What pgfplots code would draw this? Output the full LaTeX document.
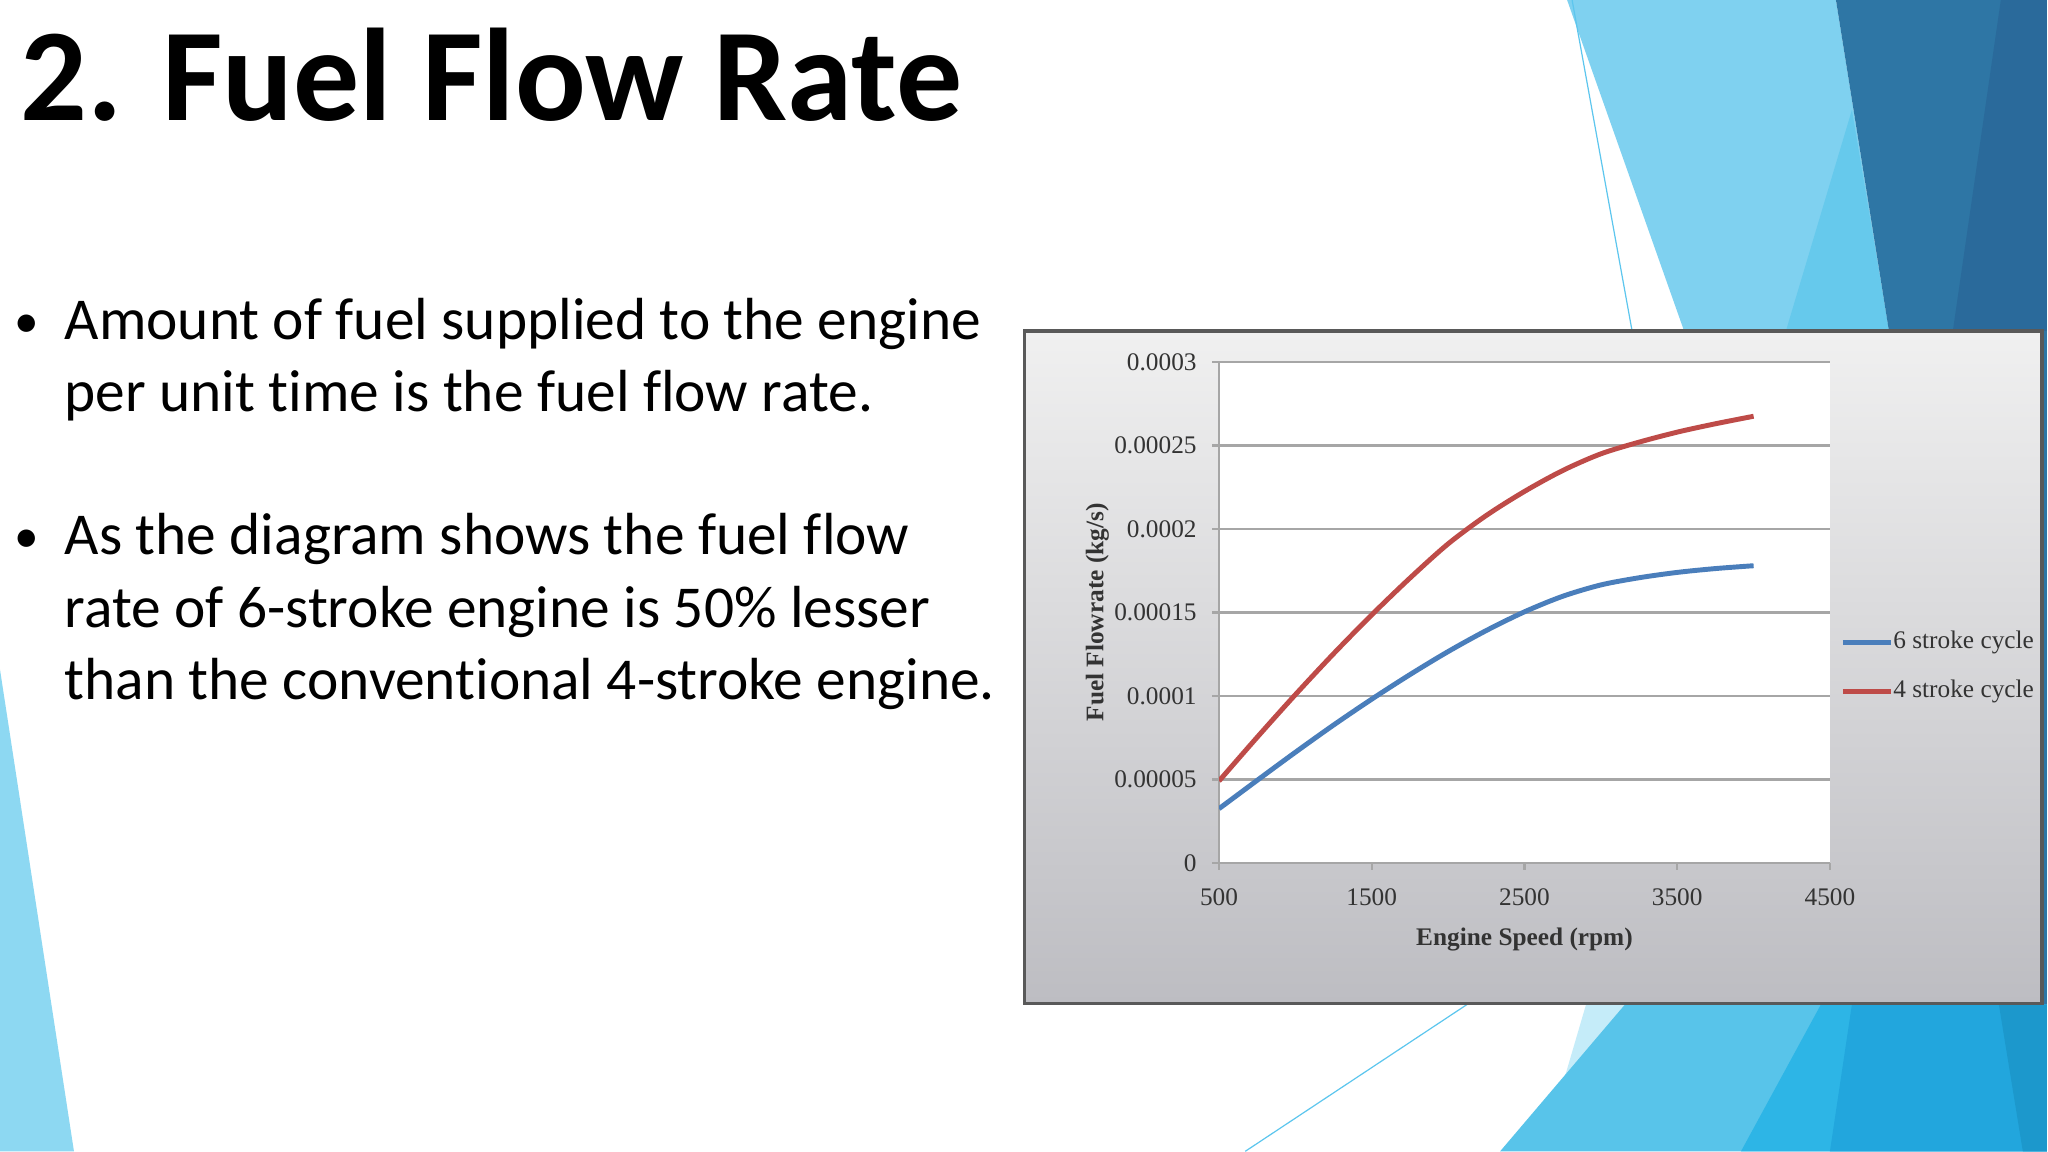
\documentclass[border=0pt]{standalone}
\usepackage{fontspec}
\setmainfont[Ligatures=NoCommon]{Carlito}
\newfontfamily\chartfont{Liberation Serif}
\usepackage{pgfplots}
\pgfplotsset{compat=1.18}
\definecolor{lbA}{HTML}{7FD1F0}
\definecolor{mbA}{HTML}{66C9EC}
\definecolor{dbA}{HTML}{2E76A5}
\definecolor{dbB}{HTML}{2A6A9B}
\definecolor{bmA}{HTML}{58C4EA}
\definecolor{bbA}{HTML}{2DB5E6}
\definecolor{bcA}{HTML}{22A6DD}
\definecolor{bdA}{HTML}{1C98CC}
\definecolor{pale}{HTML}{C5ECF9}
\definecolor{leftc}{HTML}{8DD8F2}
\definecolor{thinl}{HTML}{5CC6EE}
\definecolor{sixc}{HTML}{4A7EBB}
\definecolor{fourc}{HTML}{BE4B48}
\definecolor{boxtop}{HTML}{F0F0F0}
\definecolor{boxbot}{HTML}{BDBDC2}
\definecolor{gridc}{HTML}{A6A6A6}
\begin{document}
\begin{tikzpicture}
\useasboundingbox (0,0) rectangle (20.48,11.52);
\fill[white] (0,0) rectangle (20.48,11.52);
\begin{scope}[x=0.01cm,y=-0.01cm,yshift=11.52cm]
  % decorative shapes
  \fill[leftc] (0,670) -- (74,1152) -- (0,1152) -- cycle;
  \fill[lbA] (1568,0) -- (1837,0) -- (1890,331) -- (1685,331) -- cycle;
  \fill[mbA] (1853,110) -- (1890,331) -- (1787,331) -- cycle;
  \fill[dbA] (1837,0) -- (2048,0) -- (2048,331) -- (1890,331) -- cycle;
  \fill[dbB] (2002,0) -- (2048,0) -- (2048,331) -- (1954,331) -- cycle;
  \draw[thinl, line width=0.012cm] (1573,0) -- (1633,331);
  \fill[dbA] (2040,331) rectangle (2048,1005);
  \draw[thinl, line width=0.012cm] (1468,1005) -- (1246,1152);
  \fill[pale] (1587,1005) -- (1626,1005) -- (1565,1080) -- cycle;
  \fill[bmA] (1626,1005) -- (2048,1005) -- (2048,1152) -- (1501,1152) -- cycle;
  \fill[bbA] (1822,1005) -- (2048,1005) -- (2048,1152) -- (1742,1152) -- cycle;
  \fill[bcA] (1853,1005) -- (2048,1005) -- (2048,1152) -- (1831,1152) -- cycle;
  \fill[bdA] (2000,1005) -- (2048,1005) -- (2048,1152) -- (2024,1152) -- cycle;
  % title
  \node[anchor=base west, inner sep=0pt] at (20,121) {\fontsize{37.5}{44}\selectfont\bfseries 2. Fuel Flow Rate};
  % bullets
  \begin{scope}[every node/.style={anchor=base west, inner sep=0pt, font=\fontsize{16.9}{20}\selectfont}]
    \node[anchor=base, font=\fontsize{14}{16}\selectfont] at (26.5,338) {•};
    \node at (64,340) {Amount of fuel supplied to the engine};
    \node at (64,412) {per unit time is the fuel flow rate.};
    \node[anchor=base, font=\fontsize{14}{16}\selectfont] at (26.5,553) {•};
    \node at (64,555) {As the diagram shows the fuel flow};
    \node at (64,628) {rate of 6-stroke engine is 50\% lesser};
    \node at (64,700) {than the conventional 4-stroke engine.};
  \end{scope}
  % chart box
  \shade[top color=boxtop, bottom color=boxbot] (1025,331) rectangle (2043,1004);
  \draw[black!65, line width=0.035cm] (1025,331) rectangle (2043,1004);
\end{scope}
\begin{axis}[
  at={(12.19cm,2.89cm)}, anchor=south west,
  width=6.11cm, height=5.01cm, scale only axis,
  xmin=500, xmax=4500, ymin=0, ymax=0.0003,
  xtick={500,1500,2500,3500,4500},
  xticklabels={500,1500,2500,3500,4500},
  ytick={0,0.00005,0.0001,0.00015,0.0002,0.00025,0.0003},
  yticklabels={0,0.00005,0.0001,0.00015,0.0002,0.00025,0.0003},
  scaled x ticks=false, scaled y ticks=false,
  axis background/.style={fill=white},
  axis lines*=left,
  axis line style={gridc, line width=0.7pt},
  ymajorgrids, grid style={gridc, line width=0.8pt},
  tick align=outside, major tick length=0.07cm,
  tick style={gridc, line width=0.6pt},
  ticklabel style={font=\chartfont\fontsize{7.2}{8}\selectfont, text=black!80},
  xticklabel style={yshift=-0.06cm},
  yticklabel style={xshift=-0.03cm},
  xlabel={Engine Speed (rpm)},
  ylabel={Fuel Flowrate (kg/s)},
  label style={font=\chartfont\bfseries\fontsize{7.2}{8}\selectfont, text=black!80},
  xlabel style={at={(axis description cs:0.5,-0.153)}, anchor=center},
  ylabel style={at={(axis description cs:-0.199,0.5)}, anchor=center},
  legend style={at={(axis description cs:1.016,0.392)}, anchor=west, draw=none, fill=none,
    inner sep=0pt, row sep=0.25cm,
    font=\chartfont\fontsize{7.2}{8}\selectfont, text=black!80,
    nodes={inner sep=0pt, text height=1.8mm, text depth=0.6mm}},
  legend cell align=left,
  legend image code/.code={\draw[#1] (0cm,0cm) -- (0.48cm,0cm);},
]
\addplot[sixc, line width=1.4pt, smooth] coordinates {
(500,0.0000325) (750,0.0000495) (1000,0.0000663) (1250,0.0000826) (1500,0.0000981)
(1750,0.0001128) (2000,0.0001266) (2250,0.0001392) (2500,0.0001504) (2750,0.0001597)
(3000,0.0001665) (3250,0.0001708) (3500,0.000174) (3750,0.0001763) (4000,0.000178)};
\addlegendentry{6 stroke cycle}
\addplot[fourc, line width=1.4pt, smooth] coordinates {
(500,0.0000491) (750,0.0000753) (1000,0.0001008) (1250,0.0001253) (1500,0.0001486)
(1750,0.0001706) (2000,0.0001911) (2250,0.0002081) (2500,0.0002225) (2750,0.000235)
(3000,0.000245) (3250,0.000252) (3500,0.000258) (3750,0.000263) (4000,0.0002675)};
\addlegendentry{4 stroke cycle}
\end{axis}
\end{tikzpicture}
\end{document}
